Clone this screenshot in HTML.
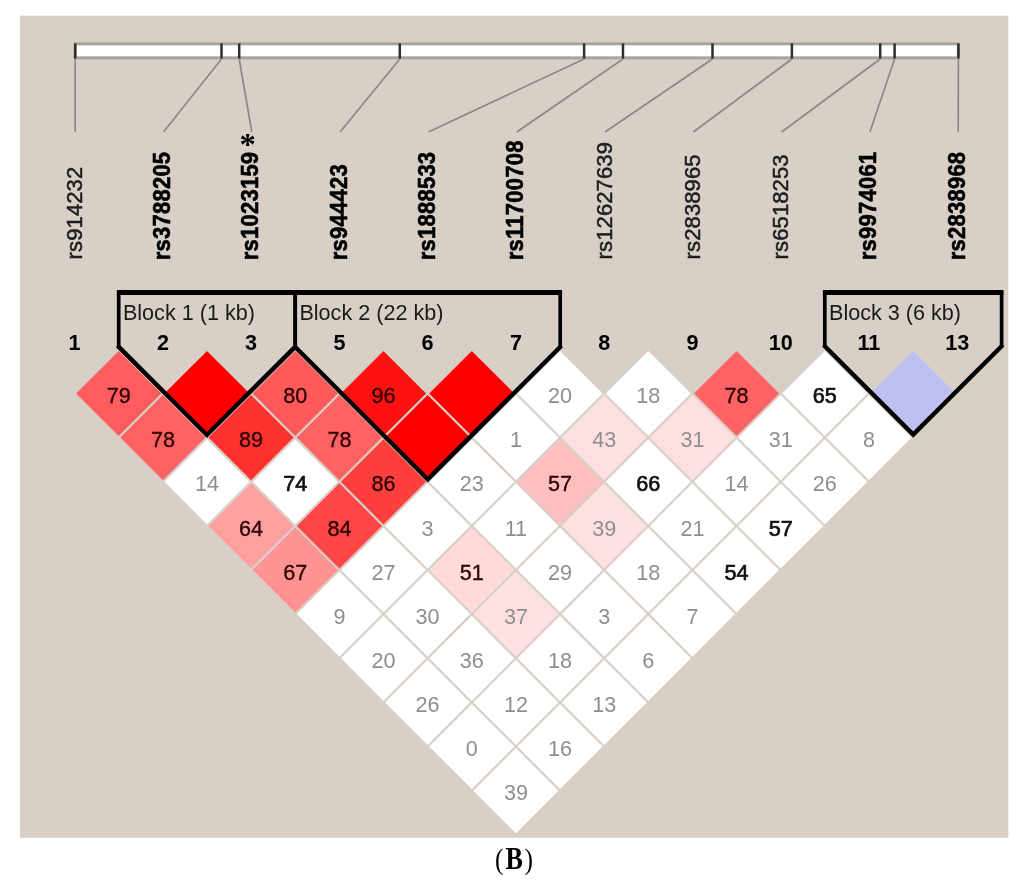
<!DOCTYPE html>
<html lang="en"><head><meta charset="utf-8"><title>LD plot (B)</title>
<style>html,body{margin:0;padding:0;background:#fff}svg{display:block}text{font-family:"Liberation Sans",sans-serif}text.sf{font-family:"Liberation Serif",serif}</style></head><body>
<svg width="1024" height="889" viewBox="0 0 1024 889">
<rect x="0" y="0" width="1024" height="889" fill="#ffffff"/>
<rect x="20" y="15.6" width="988.4" height="822.2" fill="#d8d0c7"/>
<line x1="75.2" y1="59" x2="75.2" y2="132" stroke="#8e8882" stroke-width="1.7"/>
<line x1="221.5" y1="59" x2="163.5" y2="132" stroke="#8e8882" stroke-width="1.7"/>
<line x1="239.2" y1="59" x2="251.8" y2="132" stroke="#8e8882" stroke-width="1.7"/>
<line x1="399.8" y1="59" x2="340.1" y2="132" stroke="#8e8882" stroke-width="1.7"/>
<line x1="584.1" y1="59" x2="428.4" y2="132" stroke="#8e8882" stroke-width="1.7"/>
<line x1="623.0" y1="59" x2="516.7" y2="132" stroke="#8e8882" stroke-width="1.7"/>
<line x1="712.5" y1="59" x2="605.0" y2="132" stroke="#8e8882" stroke-width="1.7"/>
<line x1="791.9" y1="59" x2="693.3" y2="132" stroke="#8e8882" stroke-width="1.7"/>
<line x1="880.2" y1="59" x2="781.6" y2="132" stroke="#8e8882" stroke-width="1.7"/>
<line x1="894.6" y1="59" x2="869.9" y2="132" stroke="#8e8882" stroke-width="1.7"/>
<line x1="958.4" y1="59" x2="958.2" y2="132" stroke="#8e8882" stroke-width="1.7"/>
<rect x="75.2" y="43.85" width="883.2" height="14" fill="#ffffff" stroke="#aaa39b" stroke-width="3"/>
<line x1="75.2" y1="43.4" x2="75.2" y2="58.6" stroke="#2e2e2e" stroke-width="2.5"/>
<line x1="221.5" y1="43.4" x2="221.5" y2="58.6" stroke="#2e2e2e" stroke-width="2.5"/>
<line x1="239.2" y1="43.4" x2="239.2" y2="58.6" stroke="#2e2e2e" stroke-width="2.5"/>
<line x1="399.8" y1="43.4" x2="399.8" y2="58.6" stroke="#2e2e2e" stroke-width="2.5"/>
<line x1="584.1" y1="43.4" x2="584.1" y2="58.6" stroke="#2e2e2e" stroke-width="2.5"/>
<line x1="623.0" y1="43.4" x2="623.0" y2="58.6" stroke="#2e2e2e" stroke-width="2.5"/>
<line x1="712.5" y1="43.4" x2="712.5" y2="58.6" stroke="#2e2e2e" stroke-width="2.5"/>
<line x1="791.9" y1="43.4" x2="791.9" y2="58.6" stroke="#2e2e2e" stroke-width="2.5"/>
<line x1="880.2" y1="43.4" x2="880.2" y2="58.6" stroke="#2e2e2e" stroke-width="2.5"/>
<line x1="894.6" y1="43.4" x2="894.6" y2="58.6" stroke="#2e2e2e" stroke-width="2.5"/>
<line x1="958.4" y1="43.4" x2="958.4" y2="58.6" stroke="#2e2e2e" stroke-width="2.5"/>
<text transform="translate(82.00,259.4) rotate(-90) scale(1,1.045)" font-size="22" fill="#1e1e1e" stroke="#1e1e1e" stroke-width="0.5" letter-spacing="0.12">rs914232</text>
<text transform="translate(170.16,260.3) rotate(-90) scale(1,1.09)" font-size="22" font-weight="bold" fill="#000" stroke="#000" stroke-width="0.55" letter-spacing="0.25">rs3788205</text>
<text transform="translate(258.42,260.3) rotate(-90) scale(1,1.09)" font-size="22" font-weight="bold" fill="#000" stroke="#000" stroke-width="0.55" letter-spacing="0.25">rs1023159</text>
<text x="247.6" y="155.2" font-size="32.5" font-weight="bold" text-anchor="middle" fill="#000" class="sf">*</text>
<text transform="translate(346.68,260.3) rotate(-90) scale(1,1.09)" font-size="22" font-weight="bold" fill="#000" stroke="#000" stroke-width="0.55" letter-spacing="0.25">rs944423</text>
<text transform="translate(434.94,260.3) rotate(-90) scale(1,1.09)" font-size="22" font-weight="bold" fill="#000" stroke="#000" stroke-width="0.55" letter-spacing="0.25">rs1888533</text>
<text transform="translate(523.20,260.3) rotate(-90) scale(1,1.09)" font-size="22" font-weight="bold" fill="#000" stroke="#000" stroke-width="0.55" letter-spacing="0.25">rs11700708</text>
<text transform="translate(611.56,259.4) rotate(-90) scale(1,1.045)" font-size="22" fill="#1e1e1e" stroke="#1e1e1e" stroke-width="0.5" letter-spacing="0.12">rs12627639</text>
<text transform="translate(699.82,259.4) rotate(-90) scale(1,1.045)" font-size="22" fill="#1e1e1e" stroke="#1e1e1e" stroke-width="0.5" letter-spacing="0.12">rs2838965</text>
<text transform="translate(788.08,259.4) rotate(-90) scale(1,1.045)" font-size="22" fill="#1e1e1e" stroke="#1e1e1e" stroke-width="0.5" letter-spacing="0.12">rs6518253</text>
<text transform="translate(876.24,260.3) rotate(-90) scale(1,1.09)" font-size="22" font-weight="bold" fill="#000" stroke="#000" stroke-width="0.55" letter-spacing="0.25">rs9974061</text>
<text transform="translate(964.50,260.3) rotate(-90) scale(1,1.09)" font-size="22" font-weight="bold" fill="#000" stroke="#000" stroke-width="0.55" letter-spacing="0.25">rs2838968</text>
<polygon points="118.7,350.9 161.3,393.5 118.7,436.1 76.1,393.5" fill="#ff5d5d"/>
<polygon points="207.0,350.9 249.6,393.5 207.0,436.1 164.4,393.5" fill="#ff0000"/>
<polygon points="295.2,350.9 337.9,393.5 295.2,436.1 252.7,393.5" fill="#ff5959"/>
<polygon points="383.5,350.9 426.1,393.5 383.5,436.1 340.9,393.5" fill="#ff1111"/>
<polygon points="471.8,350.9 514.4,393.5 471.8,436.1 429.2,393.5" fill="#ff0000"/>
<polygon points="560.0,350.9 602.6,393.5 560.0,436.1 517.4,393.5" fill="#ffffff"/>
<polygon points="648.3,350.9 690.9,393.5 648.3,436.1 605.7,393.5" fill="#ffffff"/>
<polygon points="736.6,350.9 779.2,393.5 736.6,436.1 694.0,393.5" fill="#ff6262"/>
<polygon points="824.8,350.9 867.4,393.5 824.8,436.1 782.2,393.5" fill="#ffffff"/>
<polygon points="913.1,350.9 955.7,393.5 913.1,436.1 870.5,393.5" fill="#c0c0f0"/>
<polygon points="162.9,395.0 205.5,437.6 162.9,480.2 120.3,437.6" fill="#ff6262"/>
<polygon points="251.1,395.0 293.7,437.6 251.1,480.2 208.5,437.6" fill="#ff3131"/>
<polygon points="339.4,395.0 382.0,437.6 339.4,480.2 296.8,437.6" fill="#ff6262"/>
<polygon points="427.6,395.0 470.2,437.6 427.6,480.2 385.0,437.6" fill="#ff0000"/>
<polygon points="515.9,395.0 558.5,437.6 515.9,480.2 473.3,437.6" fill="#ffffff"/>
<polygon points="604.2,395.0 646.8,437.6 604.2,480.2 561.6,437.6" fill="#ffe0e0"/>
<polygon points="692.4,395.0 735.0,437.6 692.4,480.2 649.8,437.6" fill="#ffe0e0"/>
<polygon points="780.7,395.0 823.3,437.6 780.7,480.2 738.1,437.6" fill="#ffffff"/>
<polygon points="868.9,395.0 911.5,437.6 868.9,480.2 826.3,437.6" fill="#ffffff"/>
<polygon points="207.0,439.2 249.6,481.8 207.0,524.4 164.4,481.8" fill="#ffffff"/>
<polygon points="295.2,439.2 337.9,481.8 295.2,524.4 252.7,481.8" fill="#ffffff"/>
<polygon points="383.5,439.2 426.1,481.8 383.5,524.4 340.9,481.8" fill="#ff3e3e"/>
<polygon points="471.8,439.2 514.4,481.8 471.8,524.4 429.2,481.8" fill="#ffffff"/>
<polygon points="560.0,439.2 602.6,481.8 560.0,524.4 517.4,481.8" fill="#ffbfbf"/>
<polygon points="648.3,439.2 690.9,481.8 648.3,524.4 605.7,481.8" fill="#ffffff"/>
<polygon points="736.6,439.2 779.2,481.8 736.6,524.4 694.0,481.8" fill="#ffffff"/>
<polygon points="824.8,439.2 867.4,481.8 824.8,524.4 782.2,481.8" fill="#ffffff"/>
<polygon points="251.1,483.3 293.7,525.9 251.1,568.5 208.5,525.9" fill="#ffa0a0"/>
<polygon points="339.4,483.3 382.0,525.9 339.4,568.5 296.8,525.9" fill="#ff4747"/>
<polygon points="427.6,483.3 470.2,525.9 427.6,568.5 385.0,525.9" fill="#ffffff"/>
<polygon points="515.9,483.3 558.5,525.9 515.9,568.5 473.3,525.9" fill="#ffffff"/>
<polygon points="604.2,483.3 646.8,525.9 604.2,568.5 561.6,525.9" fill="#ffe0e0"/>
<polygon points="692.4,483.3 735.0,525.9 692.4,568.5 649.8,525.9" fill="#ffffff"/>
<polygon points="780.7,483.3 823.3,525.9 780.7,568.5 738.1,525.9" fill="#ffffff"/>
<polygon points="295.2,527.4 337.9,570.0 295.2,612.6 252.7,570.0" fill="#ff9393"/>
<polygon points="383.5,527.4 426.1,570.0 383.5,612.6 340.9,570.0" fill="#ffffff"/>
<polygon points="471.8,527.4 514.4,570.0 471.8,612.6 429.2,570.0" fill="#ffdada"/>
<polygon points="560.0,527.4 602.6,570.0 560.0,612.6 517.4,570.0" fill="#ffffff"/>
<polygon points="648.3,527.4 690.9,570.0 648.3,612.6 605.7,570.0" fill="#ffffff"/>
<polygon points="736.5,527.4 779.1,570.0 736.5,612.6 693.9,570.0" fill="#ffffff"/>
<polygon points="339.4,571.5 382.0,614.1 339.4,656.8 296.8,614.1" fill="#ffffff"/>
<polygon points="427.6,571.5 470.2,614.1 427.6,656.8 385.0,614.1" fill="#ffffff"/>
<polygon points="515.9,571.5 558.5,614.1 515.9,656.8 473.3,614.1" fill="#ffe0e0"/>
<polygon points="604.2,571.5 646.8,614.1 604.2,656.8 561.6,614.1" fill="#ffffff"/>
<polygon points="692.4,571.5 735.0,614.1 692.4,656.8 649.8,614.1" fill="#ffffff"/>
<polygon points="383.5,615.7 426.1,658.3 383.5,700.9 340.9,658.3" fill="#ffffff"/>
<polygon points="471.8,615.7 514.4,658.3 471.8,700.9 429.2,658.3" fill="#ffffff"/>
<polygon points="560.0,615.7 602.6,658.3 560.0,700.9 517.4,658.3" fill="#ffffff"/>
<polygon points="648.3,615.7 690.9,658.3 648.3,700.9 605.7,658.3" fill="#ffffff"/>
<polygon points="427.6,659.8 470.2,702.4 427.6,745.0 385.0,702.4" fill="#ffffff"/>
<polygon points="515.9,659.8 558.5,702.4 515.9,745.0 473.3,702.4" fill="#ffffff"/>
<polygon points="604.2,659.8 646.8,702.4 604.2,745.0 561.6,702.4" fill="#ffffff"/>
<polygon points="471.8,703.9 514.4,746.5 471.8,789.1 429.2,746.5" fill="#ffffff"/>
<polygon points="560.0,703.9 602.6,746.5 560.0,789.1 517.4,746.5" fill="#ffffff"/>
<polygon points="515.9,748.1 558.5,790.7 515.9,833.3 473.3,790.7" fill="#ffffff"/>
<text x="118.7" y="403.1" font-size="21.6" text-anchor="middle" fill="#2c0303" stroke="#2c0303" stroke-width="0.35">79</text>
<text x="295.2" y="403.1" font-size="21.6" text-anchor="middle" fill="#2c0303" stroke="#2c0303" stroke-width="0.35">80</text>
<text x="383.5" y="403.1" font-size="21.6" text-anchor="middle" fill="#2c0303" stroke="#2c0303" stroke-width="0.35">96</text>
<text x="560.0" y="403.1" font-size="21.6" text-anchor="middle" fill="#8e8e8e">20</text>
<text x="648.3" y="403.1" font-size="21.6" text-anchor="middle" fill="#8e8e8e">18</text>
<text x="736.6" y="403.1" font-size="21.6" text-anchor="middle" fill="#2c0303" stroke="#2c0303" stroke-width="0.35">78</text>
<text x="824.8" y="403.1" font-size="21.6" text-anchor="middle" fill="#111" stroke="#111" stroke-width="0.7">65</text>
<text x="162.9" y="447.2" font-size="21.6" text-anchor="middle" fill="#2c0303" stroke="#2c0303" stroke-width="0.35">78</text>
<text x="251.1" y="447.2" font-size="21.6" text-anchor="middle" fill="#2c0303" stroke="#2c0303" stroke-width="0.35">89</text>
<text x="339.4" y="447.2" font-size="21.6" text-anchor="middle" fill="#2c0303" stroke="#2c0303" stroke-width="0.35">78</text>
<text x="515.9" y="447.2" font-size="21.6" text-anchor="middle" fill="#8e8e8e">1</text>
<text x="604.2" y="447.2" font-size="21.6" text-anchor="middle" fill="#8e8e8e">43</text>
<text x="692.4" y="447.2" font-size="21.6" text-anchor="middle" fill="#8e8e8e">31</text>
<text x="780.7" y="447.2" font-size="21.6" text-anchor="middle" fill="#8e8e8e">31</text>
<text x="868.9" y="447.2" font-size="21.6" text-anchor="middle" fill="#8e8e8e">8</text>
<text x="207.0" y="491.4" font-size="21.6" text-anchor="middle" fill="#8e8e8e">14</text>
<text x="295.2" y="491.4" font-size="21.6" text-anchor="middle" fill="#111" stroke="#111" stroke-width="0.7">74</text>
<text x="383.5" y="491.4" font-size="21.6" text-anchor="middle" fill="#2c0303" stroke="#2c0303" stroke-width="0.35">86</text>
<text x="471.8" y="491.4" font-size="21.6" text-anchor="middle" fill="#8e8e8e">23</text>
<text x="560.0" y="491.4" font-size="21.6" text-anchor="middle" fill="#2c0303" stroke="#2c0303" stroke-width="0.35">57</text>
<text x="648.3" y="491.4" font-size="21.6" text-anchor="middle" fill="#111" stroke="#111" stroke-width="0.7">66</text>
<text x="736.6" y="491.4" font-size="21.6" text-anchor="middle" fill="#8e8e8e">14</text>
<text x="824.8" y="491.4" font-size="21.6" text-anchor="middle" fill="#8e8e8e">26</text>
<text x="251.1" y="535.5" font-size="21.6" text-anchor="middle" fill="#2c0303" stroke="#2c0303" stroke-width="0.35">64</text>
<text x="339.4" y="535.5" font-size="21.6" text-anchor="middle" fill="#2c0303" stroke="#2c0303" stroke-width="0.35">84</text>
<text x="427.6" y="535.5" font-size="21.6" text-anchor="middle" fill="#8e8e8e">3</text>
<text x="515.9" y="535.5" font-size="21.6" text-anchor="middle" fill="#8e8e8e">11</text>
<text x="604.2" y="535.5" font-size="21.6" text-anchor="middle" fill="#8e8e8e">39</text>
<text x="692.4" y="535.5" font-size="21.6" text-anchor="middle" fill="#8e8e8e">21</text>
<text x="780.7" y="535.5" font-size="21.6" text-anchor="middle" fill="#111" stroke="#111" stroke-width="0.7">57</text>
<text x="295.2" y="579.6" font-size="21.6" text-anchor="middle" fill="#2c0303" stroke="#2c0303" stroke-width="0.35">67</text>
<text x="383.5" y="579.6" font-size="21.6" text-anchor="middle" fill="#8e8e8e">27</text>
<text x="471.8" y="579.6" font-size="21.6" text-anchor="middle" fill="#2c0303" stroke="#2c0303" stroke-width="0.35">51</text>
<text x="560.0" y="579.6" font-size="21.6" text-anchor="middle" fill="#8e8e8e">29</text>
<text x="648.3" y="579.6" font-size="21.6" text-anchor="middle" fill="#8e8e8e">18</text>
<text x="736.5" y="579.6" font-size="21.6" text-anchor="middle" fill="#111" stroke="#111" stroke-width="0.7">54</text>
<text x="339.4" y="623.8" font-size="21.6" text-anchor="middle" fill="#8e8e8e">9</text>
<text x="427.6" y="623.8" font-size="21.6" text-anchor="middle" fill="#8e8e8e">30</text>
<text x="515.9" y="623.8" font-size="21.6" text-anchor="middle" fill="#8e8e8e">37</text>
<text x="604.2" y="623.8" font-size="21.6" text-anchor="middle" fill="#8e8e8e">3</text>
<text x="692.4" y="623.8" font-size="21.6" text-anchor="middle" fill="#8e8e8e">7</text>
<text x="383.5" y="667.9" font-size="21.6" text-anchor="middle" fill="#8e8e8e">20</text>
<text x="471.8" y="667.9" font-size="21.6" text-anchor="middle" fill="#8e8e8e">36</text>
<text x="560.0" y="667.9" font-size="21.6" text-anchor="middle" fill="#8e8e8e">18</text>
<text x="648.3" y="667.9" font-size="21.6" text-anchor="middle" fill="#8e8e8e">6</text>
<text x="427.6" y="712.0" font-size="21.6" text-anchor="middle" fill="#8e8e8e">26</text>
<text x="515.9" y="712.0" font-size="21.6" text-anchor="middle" fill="#8e8e8e">12</text>
<text x="604.2" y="712.0" font-size="21.6" text-anchor="middle" fill="#8e8e8e">13</text>
<text x="471.8" y="756.1" font-size="21.6" text-anchor="middle" fill="#8e8e8e">0</text>
<text x="560.0" y="756.1" font-size="21.6" text-anchor="middle" fill="#8e8e8e">16</text>
<text x="515.9" y="800.3" font-size="21.6" text-anchor="middle" fill="#8e8e8e">39</text>
<path d="M118.7,347.2 V292.5 M295.2,347.2 V292.5" fill="none" stroke="#000" stroke-width="3.7"/>
<path d="M116.9,292.5 H297.1" fill="none" stroke="#000" stroke-width="4.8"/>
<path d="M117.5,345.6 L206.9,435.0 L296.4,345.6" fill="none" stroke="#000" stroke-width="4.4" stroke-linejoin="miter"/>
<text x="122.9" y="320" font-size="21.6" fill="#1a1a1a">Block 1 (1 kb)</text>
<path d="M295.2,347.4 V292.5 M560.2,347.4 V292.5" fill="none" stroke="#000" stroke-width="3.7"/>
<path d="M293.3,292.5 H562.1" fill="none" stroke="#000" stroke-width="4.8"/>
<path d="M294.0,345.7 L427.7,479.4 L561.4,345.7" fill="none" stroke="#000" stroke-width="4.4" stroke-linejoin="miter"/>
<text x="299.4" y="320" font-size="21.6" fill="#1a1a1a">Block 2 (22 kb)</text>
<path d="M824.8,346.7 V292.5 M1001.6,346.7 V292.5" fill="none" stroke="#000" stroke-width="3.7"/>
<path d="M822.9,292.5 H1003.5" fill="none" stroke="#000" stroke-width="4.8"/>
<path d="M823.6,345.0 L913.2,434.6 L1002.8,345.0" fill="none" stroke="#000" stroke-width="4.4" stroke-linejoin="miter"/>
<text x="829.0" y="320" font-size="21.6" fill="#1a1a1a">Block 3 (6 kb)</text>
<text x="74.6" y="349.8" font-size="21.6" font-weight="bold" text-anchor="middle" fill="#000">1</text>
<text x="162.9" y="349.8" font-size="21.6" font-weight="bold" text-anchor="middle" fill="#000">2</text>
<text x="251.1" y="349.8" font-size="21.6" font-weight="bold" text-anchor="middle" fill="#000">3</text>
<text x="339.4" y="349.8" font-size="21.6" font-weight="bold" text-anchor="middle" fill="#000">5</text>
<text x="427.6" y="349.8" font-size="21.6" font-weight="bold" text-anchor="middle" fill="#000">6</text>
<text x="515.9" y="349.8" font-size="21.6" font-weight="bold" text-anchor="middle" fill="#000">7</text>
<text x="604.2" y="349.8" font-size="21.6" font-weight="bold" text-anchor="middle" fill="#000">8</text>
<text x="692.4" y="349.8" font-size="21.6" font-weight="bold" text-anchor="middle" fill="#000">9</text>
<text x="780.7" y="349.8" font-size="21.6" font-weight="bold" text-anchor="middle" fill="#000">10</text>
<text x="868.9" y="349.8" font-size="21.6" font-weight="bold" text-anchor="middle" fill="#000">11</text>
<text x="957.2" y="349.8" font-size="21.6" font-weight="bold" text-anchor="middle" fill="#000">13</text>
<g fill="#000"><text class="sf" transform="translate(494.9,868.9) scale(0.82,0.96)" font-size="31">(</text><text class="sf" transform="translate(505.6,868.7) scale(0.87,1.02)" font-size="30" font-weight="bold">B</text><text class="sf" transform="translate(524.4,868.9) scale(0.82,0.96)" font-size="31">)</text></g>
</svg></body></html>
